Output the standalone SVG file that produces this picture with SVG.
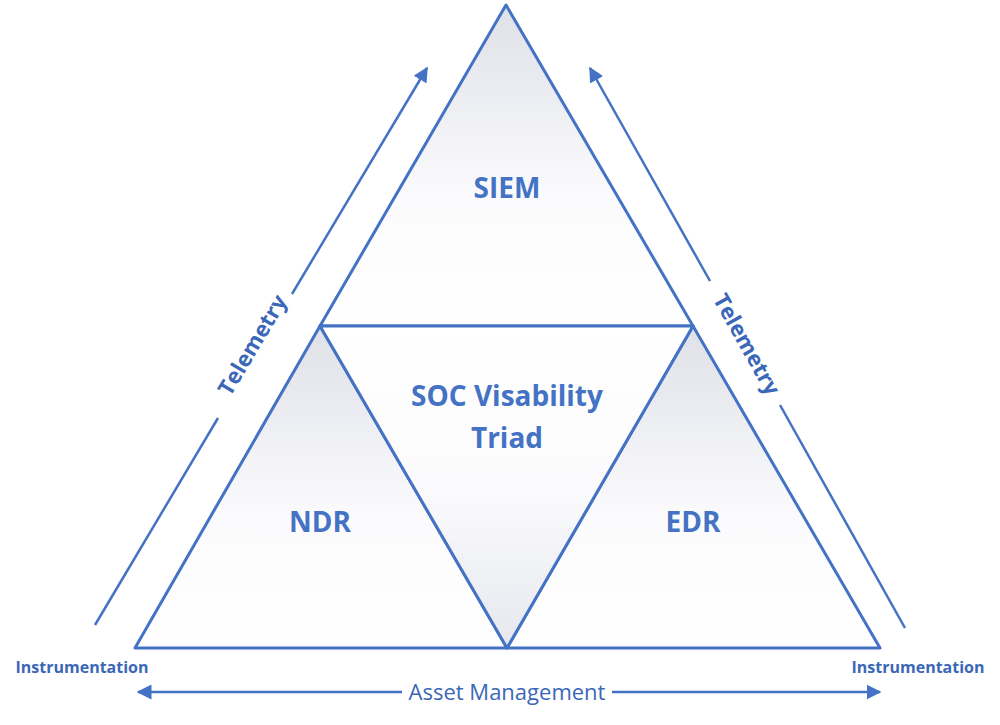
<svg xmlns="http://www.w3.org/2000/svg" width="1000" height="725" viewBox="0 0 1000 725">
<defs>
<linearGradient id="g" x1="0" y1="0" x2="0" y2="1"><stop offset="0" stop-color="#dfe1e8"/><stop offset="0.6" stop-color="#fbfbfd"/><stop offset="1" stop-color="#ffffff"/></linearGradient>
<linearGradient id="g2" x1="0" y1="1" x2="0" y2="0"><stop offset="0" stop-color="#e6e8ee"/><stop offset="0.5" stop-color="#fbfbfd"/><stop offset="1" stop-color="#ffffff"/></linearGradient>
<marker id="ah" viewBox="0 0 10 10" refX="9" refY="5" markerWidth="6" markerHeight="6" orient="auto-start-reverse"><path d="M0,0 L10,5 L0,10 z" fill="#4472C4"/></marker>
</defs>
<style>
.t{stroke:#4472C4;stroke-width:3;stroke-linejoin:round}
.c{stroke:#4472C4;stroke-width:2.5;fill:none}
.lb{font-family:"Open Sans","Liberation Sans",sans-serif;font-weight:bold;fill:#4472C4;text-anchor:middle}
.sm{font-family:"Open Sans","Liberation Sans",sans-serif;fill:#3B67B8;text-anchor:middle}
</style>
<rect width="1000" height="725" fill="#fff"/>
<g id="siem"><polygon class="t" fill="url(#g)" points="506,5 693,326 320,326"/><text class="lb" x="507" y="198" font-size="28">SIEM</text></g>
<g id="ndr"><polygon class="t" fill="url(#g)" points="320,326 507,648 135,648"/><text class="lb" x="320" y="532" font-size="28">NDR</text></g>
<g id="edr"><polygon class="t" fill="url(#g)" points="693,326 880,648 507,648"/><text class="lb" x="693" y="532" font-size="28">EDR</text></g>
<g id="center"><polygon class="t" fill="url(#g2)" points="320,326 693,326 507,648"/><text class="lb" x="507" y="406" font-size="28">SOC Visability</text><text class="lb" x="507" y="448" font-size="28">Triad</text></g>
<g id="connectors">
<line class="c" x1="95" y1="625" x2="218" y2="418"/>
<line class="c" x1="292" y1="294" x2="427" y2="68" marker-end="url(#ah)"/>
<line class="c" x1="905" y1="628" x2="780" y2="405"/>
<line class="c" x1="710" y1="281" x2="590" y2="68" marker-end="url(#ah)"/>
<line class="c" x1="402" y1="692" x2="138" y2="692" marker-end="url(#ah)"/>
<line class="c" x1="612" y1="692" x2="880" y2="692" marker-end="url(#ah)"/>
</g>
<text class="sm" font-size="22" font-weight="bold" transform="translate(259,349) rotate(-59.2)">Telemetry</text>
<text class="sm" font-size="22" font-weight="bold" transform="translate(740,348) rotate(60.6)">Telemetry</text>
<text class="sm" font-size="22" x="507" y="700">Asset Management</text>
<text class="sm" font-size="16" font-weight="bold" x="82" y="673">Instrumentation</text>
<text class="sm" font-size="16" font-weight="bold" x="918" y="673">Instrumentation</text>
</svg>
